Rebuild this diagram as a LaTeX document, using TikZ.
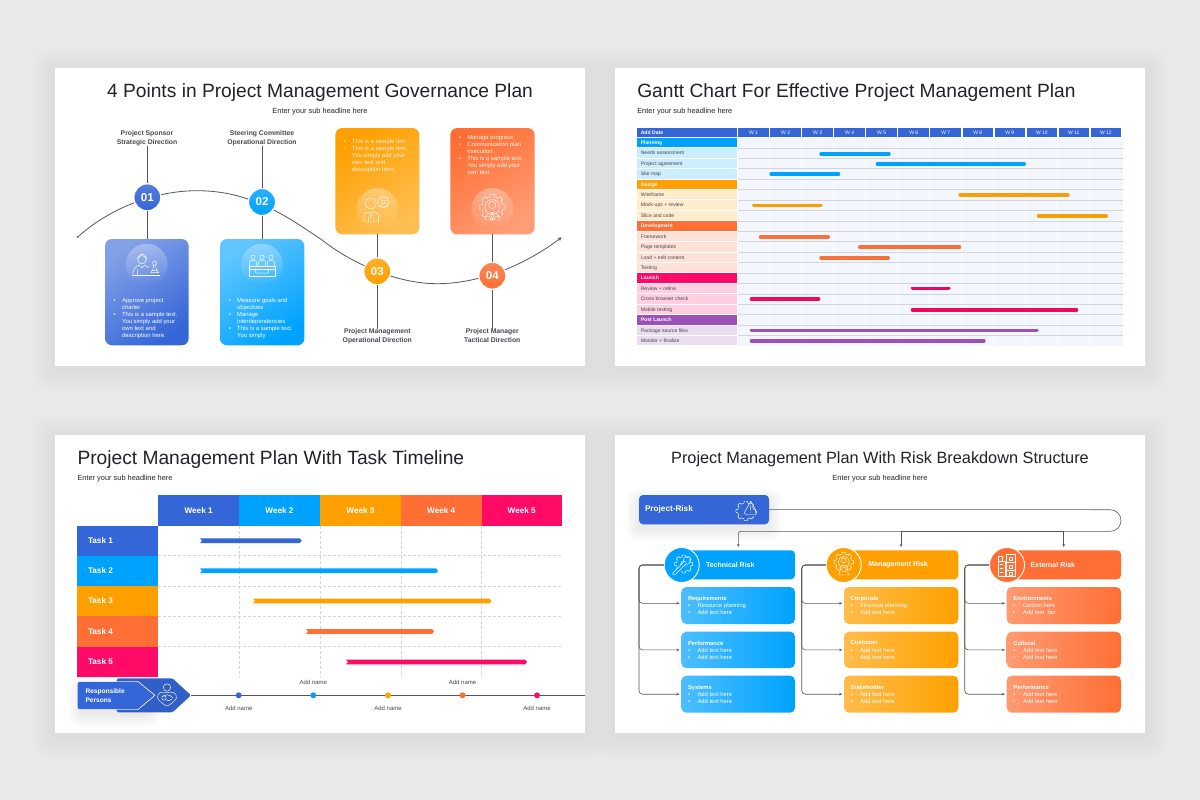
\documentclass[tikz,border=0pt]{standalone}
\usepackage{fontspec}
\setmainfont{Liberation Sans}
\usetikzlibrary{arrows.meta,fadings,calc}
\definecolor{cbg}{HTML}{E9E9EB}
\definecolor{cblue}{HTML}{3566D8}
\definecolor{csky}{HTML}{00A2FF}
\definecolor{corange}{HTML}{FFA000}
\definecolor{ccoral}{HTML}{FF6F35}
\definecolor{cpink}{HTML}{FF0A66}
\definecolor{cpurple}{HTML}{9B51B5}
\definecolor{ctitle}{HTML}{212328}
\definecolor{ctext}{HTML}{45484F}
\definecolor{cline}{HTML}{55575C}
\definecolor{cgrid}{HTML}{D2D5DC}
\definecolor{cgantt}{HTML}{F3F6FC}
\tikzfading[name=fadedown,top color=transparent!0,bottom color=transparent!100]
\tikzset{
 txt/.style={inner sep=0pt,outer sep=0pt},
 ttl/.style={txt,text=ctitle,font=\fontsize{19.2}{24}\selectfont},
 ttlb/.style={txt,text=ctitle,font=\fontsize{16.3}{22}\selectfont},
 subt/.style={txt,text=ctitle,font=\fontsize{7.4}{9}\selectfont},
 lab/.style={txt,text=ctext,align=center,font=\bfseries\fontsize{6.8}{8.8}\selectfont},
 cardtext/.style={txt,anchor=north west,align=left,text=white,font=\fontsize{5.9}{7}\selectfont},
 conn/.style={draw=cline,line width=.6pt},
 arr/.style={conn,-{Stealth[length=3pt,width=2.6pt]}},
 iconl/.style={draw=white,line width=.45pt,line join=round,line cap=round},
 numc/.style={circle,minimum size=27pt,inner sep=0pt,draw=white,line width=1.2pt,text=white,font=\bfseries\fontsize{11.5}{12}\selectfont},
 headc/.style={circle,minimum size=35pt,inner sep=0pt,draw=white,line width=.9pt},
 box/.style={inner sep=0pt,outer sep=0pt,rectangle},
 gbar/.style={line width=3.6pt,line cap=round},
 gitem/.style={txt,anchor=base west,text=ctext,font=\fontsize{5.1}{6}\selectfont},
 gsec/.style={txt,anchor=base west,text=white,font=\bfseries\fontsize{5.1}{6}\selectfont},
 cellt/.style={txt,text=white,font=\bfseries\fontsize{8.2}{9}\selectfont},
 nam/.style={txt,text=ctext,font=\fontsize{6}{7}\selectfont},
 headt/.style={txt,anchor=west,text=white,font=\bfseries\fontsize{7}{8}\selectfont},
 subtxt/.style={txt,anchor=north west,align=left,text=white,font=\fontsize{5.8}{7.1}\selectfont},
}
\newcommand\bl{\makebox[8.4pt][l]{•}}
\newcommand\nb{\hspace*{8.4pt}}
\newcommand\rnode[6]{\node[box,#6,minimum width={(#4)-(#2)},minimum height={(#5)-(#3)}] (#1) at ({((#2)+(#4))/2},{((#3)+(#5))/2}) {};}
\newcommand\softshadow[5]{\foreach \k in {1,...,12}{\fill[black,opacity=#5,rounded corners={2pt+\k*1.5pt}] ({#1-\k*2},{#2-\k*2+3}) rectangle ({#3+\k*2},{#4+\k*2+3});}}
\newcommand\softbox[7]{\foreach \k in {1,...,10}{\fill[black,opacity=#5,rounded corners={3pt+\k*1pt}] ({#1-\k*1.3+#6},{#2-\k*1.3+#7}) rectangle ({#3+\k*1.3},{#4+\k*1.3+#7});}}
\newcommand\gearic[3]{\draw[iconl] plot[domain=0:357.5,samples=144] ({#1+#3*(cos(8*\x)>0?1.22:1)*cos(\x)},{#2+#3*(cos(8*\x)>0?1.22:1)*sin(\x)}) -- cycle;}
\newcommand\halo[2]{\fill[white,fill opacity=.32,path fading=fadedown] (#1,#2) circle (21);}
\newcommand\tbar[4]{\fill[#4] ({#1-1},{#3-2.4}) -- ({#2-2},{#3-2.4}) -- (#2,#3) -- ({#2-2},{#3+2.4}) -- ({#1-1},{#3+2.4}) -- ({#1+1},#3) -- cycle;}
\begin{document}
\begin{tikzpicture}[x=1pt,y=-1pt]
\useasboundingbox (0,0) rectangle (1200,800);
\fill[cbg] (0,0) rectangle (1200,800);
% slides
\softshadow{55}{68}{585}{366}{.0045}
\softshadow{615}{68}{1145}{366}{.0045}
\softshadow{55}{435}{585}{733}{.0045}
\softshadow{615}{435}{1145}{733}{.0045}
\fill[white] (55,68) rectangle (585,366);
\fill[white] (615,68) rectangle (1145,366);
\fill[white] (55,435) rectangle (585,733);
\fill[white] (615,435) rectangle (1145,733);

%%%%%%%% Slide 1
\node[ttl] (t1) at (320,92.2) {4 Points in Project Management Governance Plan};
\node[subt] (s1) at (320,112) {Enter your sub headline here};
\node[lab,anchor=south] (l1) at (147,145.7) {Project Sponsor\\Strategic Direction};
\node[lab,anchor=south] (l2) at (262,145.7) {Steering Committee\\Operational Direction};
\node[lab,anchor=north] (l3) at (377.3,328.8) {Project Management\\Operational Direction};
\node[lab,anchor=north] (l4) at (492.3,328.8) {Project Manager\\Tactical Direction};
\rnode{b1}{105}{239}{188.7}{345.3}{rounded corners=7pt,top color=cblue!62!white,bottom color=cblue,shading angle=35}
\rnode{b2}{220}{239}{304.3}{345.3}{rounded corners=7pt,top color=csky!62!white,bottom color=csky,shading angle=35}
\rnode{b3}{335.3}{128}{419.3}{234.3}{rounded corners=7pt,top color=corange,bottom color=corange!68!white,shading angle=35}
\rnode{b4}{450.3}{128}{534.7}{234.3}{rounded corners=7pt,top color=ccoral,bottom color=ccoral!68!white,shading angle=35}
\coordinate (cs) at (77.7,237);
\coordinate (ce) at (561.7,237.3);
\draw[conn,line width=.8pt,-{Stealth[length=4pt,width=4pt,open]}] (cs) .. controls (110,208) and (155,190.7) .. (197,190.7) .. controls (250,190.7) and (285,215) .. (322,240) .. controls (350,262) and (395,283.7) .. (437,283.7) .. controls (480,283.7) and (525,265) .. (ce);
\fill[cline] (cs) circle (1);
\node[numc,top color=cblue!85!white,bottom color=cblue] (n1) at (147.3,197.3) {01};
\node[numc,top color=csky!85!white,bottom color=csky] (n2) at (262,202) {02};
\node[numc,top color=corange!85!white,bottom color=corange] (n3) at (377.3,271.3) {03};
\node[numc,top color=ccoral!85!white,bottom color=ccoral] (n4) at (492.3,275.7) {04};
\draw[conn] (n1 |- l1.south) -- (n1.north);\draw[conn] (n1.south) -- (n1 |- b1.north);
\draw[conn] (n2 |- l2.south) -- (n2.north);\draw[conn] (n2.south) -- (n2 |- b2.north);
\draw[conn] (n3 |- b3.south) -- (n3.north);\draw[conn] (n3.south) -- (n3 |- l3.north);
\draw[conn] (n4 |- b4.south) -- (n4.north);\draw[conn] (n4.south) -- (n4 |- l4.north);
\halo{146.7}{264.7}\halo{262}{264.7}\halo{377.3}{209}\halo{492.3}{209}
\node[cardtext] (x1) at (113.7,298.7) {\bl Approve project\\\nb charter\\\bl This is a sample text.\\\nb You simply add your\\\nb own text and\\\nb description here.};
\node[cardtext] (x2) at (228.8,298.7) {\bl Measure goals and\\\nb objectives\\\bl Manage\\\nb interdependencies\\\bl This is a sample text.\\\nb You simply};
\node[cardtext,text=white!90!orange] (x3) at (343.5,139.3) {\bl This is a sample text\\\bl This is a sample text.\\\nb You simply add your\\\nb own text and\\\nb description here.};
\node[cardtext,text=white!92!orange] (x4) at (458.9,135.7) {\bl Manage progress\\\bl Communication plan\\\nb execution\\\bl This is a sample text.\\\nb You simply add your\\\nb own text};
% icon 01
\begin{scope}[shift={(146.7,264.7)}]
\draw[iconl] (-4.7,-5) circle (4.2);
\draw[iconl] (-9.2,-6) .. controls (-8,-12) and (-1,-12) .. (-.2,-6);
\draw[iconl] (-14,10.5) .. controls (-14,3) and (-10,1.5) .. (-7.5,.5) -- (-4.7,3) -- (-2,.5) .. controls (0,1.5) and (1,2) .. (2,3);
\draw[iconl] (-14,10.5) -- (13,10.5);
\draw[iconl] (8,-1.5) circle (2) (6.7,.3) -- (9.3,.3) (7,.3) -- (6,6) (9,.3) -- (10,6) (5,6) -- (11,6) -- (12,8) -- (4,8) -- cycle (-9,5) -- (-9,10.5);
\end{scope}
% icon 02
\begin{scope}[shift={(262,264.7)}]
\foreach \q in {-9,0,9}{\draw[iconl] (\q,-7.5) circle (2.2) ({\q-3.3},2) -- ({\q-3.3},-3) .. controls ({\q-3},-5) and ({\q+3},-5) .. ({\q+3.3},-3) -- ({\q+3.3},2);}
\draw[iconl] (-13,2) rectangle (13,11.5);
\draw[iconl,rounded corners=1.5pt] (-7,5) rectangle (7,8.5);
\draw[iconl] (-13,4.3) -- (13,4.3);
\end{scope}
% icon 03
\begin{scope}[shift={(377.3,209)}]
\draw[iconl] (-6.5,-5.5) circle (5.5);
\gearic{6}{-7}{4.6}
\draw[iconl] (6,-7) circle (2);
\draw[iconl] (-13.5,13) -- (-13.5,7) .. controls (-13.5,3) and (-9,3) .. (-6.5,3) .. controls (-3,3) and (1,3) .. (1,7) -- (1,13) -- cycle (-8,3) -- (-6.5,9) -- (-5,3) (-9,8) -- (-9,13) (-3.5,8) -- (-3.5,13);
\end{scope}
% icon 04
\begin{scope}[shift={(492.3,209)}]
\gearic{0}{-2}{10.5}
\draw[iconl] (0,-2) circle (7.4) (0,-4) circle (3.6);
\draw[iconl] (-7,11) .. controls (-7,5) and (-4,4) .. (0,3.5) .. controls (4,4) and (7,5) .. (7,11) -- cycle (0,3.5) -- (-1.2,7) -- (0,11) -- (1.2,7) -- cycle;
\end{scope}

%%%%%%%% Slide 2
\node[ttl,anchor=west] (t2) at (637.3,92.2) {Gantt Chart For Effective Project Management Plan};
\node[subt,anchor=west] (s2) at (637.3,112) {Enter your sub headline here};
\fill[cgantt] (738.3,137.5) rectangle (1122.7,345.7);
\foreach \w in {1,...,11}{\draw[white,line width=1pt] ({738.3+\w*32.03-.7},137.5) -- ({738.3+\w*32.03-.7},345.7);}
\foreach \i in {0,...,18}{\draw[cgrid,line width=.5pt] (738.3,{142.67+\i*10.42+5.2}) -- (1122.7,{142.67+\i*10.42+5.2});}
\rnode{gh}{637.3}{128}{737}{137}{fill=cblue}
\node[gsec] (ghl) at (640.8,134.3) {Add Date};
\foreach \w in {1,...,12}{
  \rnode{gw\w}{738.3+(\w-1)*32.03}{128}{738.3+\w*32.03-1.5}{137}{fill=cblue}
  \node[txt,text=white,font=\fontsize{5}{6}\selectfont] (gwl\w) at (gw\w) {W \w};
}
\foreach \i/\t/\c/\s in {
 0/Planning/csky/1,1/Needs assessment/csky/0,2/Project agreement/csky/0,3/Site map/csky/0,
 4/Design/corange/1,5/Wireframe/corange/0,6/Mock-ups + review/corange/0,7/Slice and code/corange/0,
 8/Development/ccoral/1,9/Framework/ccoral/0,10/Page templates/ccoral/0,11/Load + edit content/ccoral/0,12/Testing/ccoral/0,
 13/Launch/cpink/1,14/Review + refine/cpink/0,15/Cross browser check/cpink/0,16/Mobile testing/cpink/0,
 17/Post Launch/cpurple/1,18/Package source files/cpurple/0,19/Monitor + finalize/cpurple/0}{
  \pgfmathsetmacro\yc{142.67+\i*10.42}
  \ifnum\s=1
    \rnode{gr\i}{637.3}{\yc-4.7}{737}{\yc+4.7}{fill=\c}
    \node[gsec] (grl\i) at (640.8,\yc+1.8) {\t};
  \else
    \rnode{gr\i}{637.3}{\yc-4.7}{737}{\yc+4.7}{fill=\c!20!white}
    \node[gitem] (grl\i) at (640.8,\yc+1.8) {\t};
  \fi
}
\foreach \a/\b/\y/\c in {819.3/890.7/154/csky,875.7/1026/163.7/csky,769.3/840.3/174/csky,958.3/1069.7/195/corange!95!gray,752/822.7/205.3/corange!95!gray,1036.7/1108/216/corange!95!gray,758.7/830/237/ccoral!95!gray,858/961.3/247/ccoral!95!gray,819.3/890/257.7/ccoral!95!gray,910.7/950.7/288.3/cpink!92!black,749.7/820.3/299/cpink!92!black,910.7/1078.3/309.7/cpink!92!black,749.7/1038.7/330.3/cpurple,749.7/985.7/340.7/cpurple}{
  \draw[gbar,color=\c] ({\a+1.8},\y) -- ({\b-1.8},\y);
}

%%%%%%%% Slide 3
\node[ttl,anchor=west] (t3) at (77.5,459.2) {Project Management Plan With Task Timeline};
\node[subt,anchor=west] (s3) at (77.5,479) {Enter your sub headline here};
\foreach \x in {239,320,401,481.5}{\draw[cgrid,line width=.4pt,densely dashed] (\x,525.5) -- (\x,676);}
\foreach \y in {555.5,586,616,646.5}{\draw[cgrid,line width=.4pt,densely dashed] (158.3,\y) -- (562,\y);}
\foreach \i/\a/\b/\c/\l in {1/158.3/239/cblue/Week 1,2/239/320/csky/Week 2,3/320/401/corange/Week 3,4/401/481.5/ccoral/Week 4,5/481.5/562/cpink/Week 5}{
  \rnode{wk\i}{\a}{495}{\b}{525.5}{fill=\c}
  \node[cellt] (wkl\i) at (wk\i) {\l};
}
\foreach \i/\a/\b/\c/\l in {1/525.5/555.5/cblue/Task 1,2/555.5/586/csky/Task 2,3/586/616/corange/Task 3,4/616/646.5/ccoral/Task 4,5/646.5/676.5/cpink/Task 5}{
  \rnode{tk\i}{77.3}{\a}{158.3}{\b}{fill=\c}
  \node[cellt,anchor=west] (tkl\i) at (88,{(\a+\b)/2}) {\l};
}
\tbar{201}{301.7}{540.7}{cblue}
\tbar{201}{438}{570.7}{csky}
\tbar{254}{491.5}{601}{corange}
\tbar{307}{434}{631.5}{ccoral}
\tbar{347}{527}{662}{cpink}
% responsible
\coordinate (rt) at (191,695.3);
\coordinate (re) at (585,695.3);
\draw[line width=.6pt,cline] (rt) -- (re);
\softbox{77.7}{685}{148}{709.3}{.009}{3}{5}
\fill[cblue!92!black,rounded corners=1.5pt] (116.7,678.3) -- (172.5,678.3) -- (rt) -- (172.5,712.3) -- (116.7,712.3) -- cycle;
\fill[cblue,draw=white,line width=.6pt] (138.3,681.7) -- (155,695.3) -- (138.3,709.3) -- (116,709.3) -- (116,681.7) -- cycle;
\fill[cblue,rounded corners=2pt] (77.7,681.9) rectangle (137.5,709.1);
\fill[cblue] (120,682) rectangle (137.5,709);
\node[txt,anchor=west,align=left,text=white,font=\bfseries\fontsize{6.6}{9.2}\selectfont] (rp) at (85.5,695.3) {Responsible\\Persons};
\begin{scope}[shift={(167,695)}]
\draw[iconl] (0,-7.5) circle (3.7);
\draw[iconl] (-9.5,3) .. controls (-10,-3) and (-5,-3.5) .. (0,-2.5) .. controls (5,-3.5) and (10,-3) .. (9.5,3) .. controls (8,6) and (3,10) .. (0,11) .. controls (-3,10) and (-8,6) .. (-9.5,3) -- cycle;
\draw[iconl] (-5,2) .. controls (-3,-1) and (3,-1) .. (6,3) (-3,3) circle (2.2) (-1,5) .. controls (1,7) and (3,5) .. (5,4);
\end{scope}
\foreach \i/\x/\c/\yy in {1/238.7/cblue/708.3,2/313.3/csky/682,3/388/corange/708.3,4/462.5/ccoral/682,5/537/cpink/708.3}{
  \node[circle,minimum size=6pt,inner sep=0pt,fill=\c] (d\i) at (\x,695.3) {};
  \node[nam] (dl\i) at (\x,\yy) {Add name};
}

%%%%%%%% Slide 4
\node[ttlb] (t4) at (880,459) {Project Management Plan With Risk Breakdown Structure};
\node[subt] (s4) at (880,479) {Enter your sub headline here};
\softbox{639}{497}{769}{524.3}{.009}{0}{4}
\rnode{pr}{639}{495}{769}{524.3}{rounded corners=4pt,fill=cblue}
\node[txt,anchor=west,text=white,font=\bfseries\fontsize{8.2}{10}\selectfont] (prl) at (645,509.7) {Project-Risk};
\begin{scope}[shift={(746.7,510)}]
\gearic{-1}{1}{8}
\fill[cblue] (-1,-9) -- (11,6) -- (-3,6) -- cycle;
\draw[iconl] (4,-9) -- (10,2) .. controls (11,4) and (9,4.5) .. (8,4.5) -- (0,4.5) .. controls (-2,4.5) and (-3,3) .. (-2,2) -- cycle (4,-4) -- (4,0) (4,2) -- (4,2.2);
\end{scope}
% top loop
\coordinate (lr1) at (1121,509.7);
\coordinate (lr2) at (1121,531.3);
\coordinate (lb1) at (1063.7,531.3);
\coordinate (lb2) at (901,531.3);
\coordinate (lb3) at (738.3,531.3);
\coordinate (a1) at (738.3,547);
\coordinate (a2) at (901,547);
\coordinate (a3) at (1063.7,547);
\draw[conn,rounded corners=10.7pt] (pr.east) -- (lr1) -- (lr2) -- (lb1);
\draw[conn] (lb1) -- (lb2);
\draw[arr,rounded corners=2.5pt] (lb2) -- (lb3) -- (a1);
\draw[arr] (lb2) -- (a2);
\draw[arr] (lb1) -- (a3);
% columns
\foreach \q/\xa/\xb/\cx/\txx/\rail/\c/\h/\ta/\ba/\tb/\bb/\tc/\bc in {
 a/681.3/795/681.7/706/639/csky/Technical Risk/Requirements/Resource planning/Performance/Add text here/Systems/Add text here,
 b/844/958.3/843.7/868.3/801.7/corange/Management Risk/Corporate/Financial planning/Customer/Add text here/Stakeholder/Add text here,
 c/1006.7/1121/1007/1030.7/964.7/ccoral/External Risk/Environments/Carbon here/Cultural/Add text here/Performance/Add text here}{
  \rnode{h\q}{\xa}{550.3}{\xb}{579.3}{rounded corners=4pt,fill=\c}
  \node[headt] (hl\q) at (\txx,565) {\h};
  \rnode{k1\q}{\xa}{587}{\xb}{624}{rounded corners=5pt,left color=\c!70!white,right color=\c}
  \rnode{k2\q}{\xa}{631.7}{\xb}{668}{rounded corners=5pt,left color=\c!70!white,right color=\c}
  \rnode{k3\q}{\xa}{675.7}{\xb}{712.7}{rounded corners=5pt,left color=\c!70!white,right color=\c}
  \node[subtxt] (m1\q) at ({\xa+6.7},596.3) {\textbf{\ta}\\\makebox[9.6pt][l]{•}\ba\\\makebox[9.6pt][l]{•}Add text \if\q c her\else here\fi};
  \node[subtxt] (m2\q) at ({\xa+6.7},640.9) {\textbf{\tb}\\\makebox[9.6pt][l]{•}\bb\\\makebox[9.6pt][l]{•}Add text here};
  \node[subtxt] (m3\q) at ({\xa+6.7},685.1) {\textbf{\tc}\\\makebox[9.6pt][l]{•}\bc\\\makebox[9.6pt][l]{•}Add text here};
  \node[headc,fill=\c] (hc\q) at (\cx,565) {};
  \coordinate (rl\q) at (\rail,565);
  \draw[arr,rounded corners=3.5pt,shorten >=1.8pt] (hc\q.west) -- (rl\q) |- ([yshift=2.2pt]k1\q.west);
  \draw[arr,rounded corners=3.5pt,shorten >=1.8pt] (hc\q.west) -- (rl\q) |- (k2\q.west);
  \draw[arr,rounded corners=3.5pt,shorten >=1.8pt] (hc\q.west) -- (rl\q) |- (k3\q.west);
}
% head icons
\begin{scope}[shift={(681.7,565)}]
\gearic{2}{-1}{7.4}
\draw[iconl] (2,-1) circle (3);
\fill[csky] (-9,9) -- (3,-3) -- (6,-1) -- (-6,11) -- cycle;
\draw[iconl] (-9,8) -- (2,-3) .. controls (1,-7) and (3,-9) .. (7,-8) (-7,10) -- (4,-1) .. controls (7,0) and (9,-2) .. (8,-6) (-9,8) .. controls (-10,9) and (-8,11) .. (-7,10);
\end{scope}
\begin{scope}[shift={(843.7,565)}]
\gearic{0}{-3}{8}
\draw[iconl] (0,-3) circle (5.6) (0,-4.5) circle (2.4);
\draw[iconl] (-4,3) .. controls (-3,-.5) and (3,-.5) .. (4,3) (-3,3) -- (-5,10) -- (5,10) -- (3,3) (-7,10) -- (7,10);
\end{scope}
\begin{scope}[shift={(1007,565)}]
\draw[iconl] (-9,-4) rectangle (-2,11) (-1,-11) rectangle (8,11) (-9,-4) -- (-9,-9) -- (-5,-9) -- (-5,-4);
\draw[iconl] (-7,-1) -- (-4,-1) (-7,3) -- (-4,3) (-7,7) -- (-4,7) (-1,-3) -- (8,-3) (-1,5) -- (8,5) (2,-8) rectangle (5,-5) (2,0) rectangle (5,3) (2,7) rectangle (5,10);
\end{scope}
\end{tikzpicture}
\end{document}
